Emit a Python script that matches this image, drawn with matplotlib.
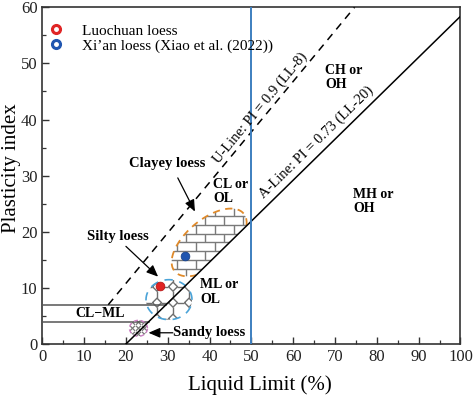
import numpy as np
import matplotlib
matplotlib.use('Agg')
import matplotlib.pyplot as plt
from matplotlib.patches import Polygon
from matplotlib.lines import Line2D
from matplotlib.collections import LineCollection
from matplotlib.ticker import MultipleLocator

plt.rcParams['font.family'] = ['Liberation Serif', 'DejaVu Serif']

# ---------------- data ----------------
luochuan_ll = [28.2]
luochuan_pi = [10.4]
xian_ll = [34.1]
xian_pi = [15.6]
series_labels = ["Luochuan loess", "Xi\u2019an loess (Xiao et al. (2022))"]
x_ticks = [0, 10, 20, 30, 40, 50, 60, 70, 80, 90, 100]
y_ticks = [0, 10, 20, 30, 40, 50, 60]
a_slope, a_ll0 = 0.73, 20      # A-line: PI = 0.73 (LL-20)
u_slope, u_ll0 = 0.9, 8        # U-line: PI = 0.9 (LL-8)
ll_boundary = 50
clml_pi = [4, 7]
zone_labels = ["CH or\nOH", "MH or\nOH", "CL or\nOL", "ML or\nOL", "CL\u2212ML"]
loess_labels = ["Clayey loess", "Silty loess", "Sandy loess"]

# ---------------- figure ----------------
fig = plt.figure(figsize=(4.74, 3.95), dpi=100)
ax = fig.add_axes([0.0892, 0.1291, 0.8823, 0.8524])
ax.set_xlim(0, 100)
ax.set_ylim(0, 60)
ax.set_xticks(x_ticks)
ax.set_yticks(y_ticks)
ax.xaxis.set_minor_locator(MultipleLocator(5))
ax.yaxis.set_minor_locator(MultipleLocator(5))
ax.tick_params(which='major', direction='in', length=5, width=1.0, labelsize=12,
               top=False, right=False, colors='#333333', labelcolor='#222222')
ax.tick_params(which='minor', direction='in', length=3, width=0.9,
               top=False, right=False, colors='#333333')
for s in ax.spines.values():
    s.set_linewidth(1.2)
    s.set_color('#333333')

ax.set_xlabel("Liquid Limit (%)", fontsize=15)
ax.set_ylabel("Plasticity index", fontsize=15)
ax.xaxis.set_label_coords(0.52, -0.093)
ax.yaxis.set_label_coords(-0.050, 0.522)

# pixel per data unit
p0 = ax.transData.transform((0, 0))
kx = ax.transData.transform((1, 0))[0] - p0[0]
ky = ax.transData.transform((0, 1))[1] - p0[1]


def a_line(ll):
    return a_slope * (np.asarray(ll) - a_ll0)


def u_line(ll):
    return u_slope * (np.asarray(ll) - u_ll0)


# A-line
xa = np.array([a_ll0, 100])
ax.plot(xa, a_line(xa), color='black', lw=1.1, zorder=5)
# U-line, starting at PI = 7
xu = np.array([u_ll0 + clml_pi[1] / u_slope, u_ll0 + 60 / u_slope])
ax.plot(xu, u_line(xu), color='black', lw=1.1, ls=(0, (5, 4)), zorder=5)
# LL = 50 line
ax.plot([ll_boundary, ll_boundary], [0, 60], color='#3d7fbf', lw=1.4, zorder=5)
# CL-ML lines
for pi in clml_pi:
    ax.plot([0, a_ll0 + pi / a_slope], [pi, pi], color='#555555', lw=1.1, zorder=4)


def ellipse_pts(cx, cy, a_px, b_px, ang_deg, n=240):
    t = np.linspace(0, 2 * np.pi, n, endpoint=False)
    th = np.radians(ang_deg)
    dx = a_px * np.cos(t) * np.cos(th) - b_px * np.sin(t) * np.sin(th)
    dy = a_px * np.cos(t) * np.sin(th) + b_px * np.sin(t) * np.cos(th)
    return cx + dx / kx, cy + dy / ky


def clip_halfplane(xs, ys, f):
    out = []
    n = len(xs)
    for i in range(n):
        p = (xs[i], ys[i])
        q = (xs[(i + 1) % n], ys[(i + 1) % n])
        fp, fq = f(*p), f(*q)
        if fp >= 0:
            out.append(p)
        if (fp >= 0) != (fq >= 0):
            t = fp / (fp - fq)
            out.append((p[0] + t * (q[0] - p[0]), p[1] + t * (q[1] - p[1])))
    return np.array(out)


# ---------- Clayey loess zone (brick pattern, above A-line) ----------
cx, cy = 39.9, 18.1
ex, ey = ellipse_pts(cx, cy, 45, 23, 40)
above = lambda x, y: y - a_slope * (x - a_ll0)
poly = clip_halfplane(ex, ey, above)
clay_patch = Polygon(poly, closed=True, facecolor='white', edgecolor='none', zorder=2)
ax.add_patch(clay_patch)
segs = []
row_h, brick_w = 8.8, 19.0
x0, x1 = ex.min() - 1, ex.max() + 1
y0, y1 = ey.min() - 1, ey.max() + 1
r = 0
yy = cy - 6 * row_h / ky
while yy < y1:
    segs.append([(x0, yy), (x1, yy)])
    off = (brick_w / 2 if r % 2 else 0) / kx
    xx = x0 + off
    while xx < x1:
        segs.append([(xx, yy), (xx, yy + row_h / ky)])
        xx += brick_w / kx
    yy += row_h / ky
    r += 1
lc = LineCollection(segs, colors='#7a7a7a', linewidths=1.0, zorder=3)
lc.set_clip_path(clay_patch)
ax.add_collection(lc)
exo = np.append(ex, ex[0])
eyo = np.append(ey, ey[0])
eyo_m = np.where(above(exo, eyo) >= 0, eyo, np.nan)
ax.plot(exo, eyo_m, color='#e08a2a', lw=1.3, ls=(0, (4, 3)), zorder=4)

# ---------- Silty loess zone (diamond lattice) ----------
sx, sy = 30.3, 7.9
sxs, sys_ = ellipse_pts(sx, sy, 23, 20, 0)
silt_patch = Polygon(np.column_stack([sxs, sys_]), closed=True, facecolor='white',
                     edgecolor='none', zorder=2)
ax.add_patch(silt_patch)
segs = []
sp, hd = 16.0, 4.5
for i in range(-2, 3):
    for j in range(-2, 3):
        px, py = sx + (i * sp + 4) / kx, sy + (j * sp - 3) / ky
        dxd, dyd = hd / kx, hd / ky
        diamond = [(px - dxd, py), (px, py + dyd), (px + dxd, py), (px, py - dyd), (px - dxd, py)]
        segs.append(diamond)
        segs.append([(px + dxd, py), (px + (sp - hd) / kx, py)])
        segs.append([(px, py + dyd), (px, py + (sp - hd) / ky)])
lc2 = LineCollection(segs, colors='#6e6e6e', linewidths=1.0, zorder=3)
lc2.set_clip_path(silt_patch)
ax.add_collection(lc2)
ax.plot(np.append(sxs, sxs[0]), np.append(sys_, sys_[0]), color='#4aa3d8', lw=1.2,
        ls=(0, (5, 4)), zorder=4)

# ---------- Sandy loess zone ----------
dx_, dy_ = 23.0, 2.8
dxs, dys = ellipse_pts(dx_, dy_, 9, 8, 0)
sand_patch = Polygon(np.column_stack([dxs, dys]), closed=True, facecolor='white',
                     edgecolor='none', zorder=2)
ax.add_patch(sand_patch)
segs = []
for i in (-1, 0, 1):
    for j in (-1, 0, 1):
        px, py = dx_ + i * 6 / kx, dy_ + j * 6 / ky
        c = 2.5
        segs.append([(px - c / kx, py - c / ky), (px + c / kx, py + c / ky)])
        segs.append([(px - c / kx, py + c / ky), (px + c / kx, py - c / ky)])
lc3 = LineCollection(segs, colors='#777777', linewidths=0.9, zorder=3)
lc3.set_clip_path(sand_patch)
ax.add_collection(lc3)
ax.plot(np.append(dxs, dxs[0]), np.append(dys, dys[0]), color='#cc7fc4', lw=1.0,
        ls=(0, (3, 2)), zorder=4)

# ---------- data points ----------
ax.scatter(luochuan_ll, luochuan_pi, s=40, color='#e02424', edgecolor='#b01010',
           linewidth=0.5, zorder=7)
ax.scatter(xian_ll, xian_pi, s=40, color='#1f55b0', edgecolor='#153f85',
           linewidth=0.5, zorder=7)

# ---------- legend ----------
h1 = (Line2D([], [], ls='none', marker='o', ms=7, mfc='#e02424', mec='#e02424'),
      Line2D([], [], ls='none', marker='o', ms=2.5, mfc='white', mec='white'))
h2 = (Line2D([], [], ls='none', marker='o', ms=7, mfc='#1f55b0', mec='#1f55b0'),
      Line2D([], [], ls='none', marker='o', ms=2.5, mfc='white', mec='white'))
ax.legend([h1, h2], series_labels, loc='upper left', bbox_to_anchor=(-0.012, 0.982),
          frameon=False, fontsize=11, handlelength=1.0, handletextpad=1.2,
          labelspacing=0.08, borderaxespad=0.3)

# ---------- zone labels ----------
zone_pos = [(67.6, 47.5), (74.3, 25.4), (40.8, 27.2), (37.7, 9.3), (13.8, 5.5)]
for lab, (x, y) in zip(zone_labels, zone_pos):
    ax.text(x, y, lab, fontsize=10, fontweight='bold', ha='center' if '\u2212' in lab else 'left',
            va='center', zorder=8, linespacing=1.15)

# line labels
ax.text(52.1, 42.0, "U-Line: PI = 0.9 (LL-8)", fontsize=10.5, ha='center', va='center',
        rotation=np.degrees(np.arctan(u_slope)), transform_rotates_text=True,
        rotation_mode='anchor', zorder=8)
ax.text(65.5, 35.9, "A-Line: PI = 0.73 (LL-20)", fontsize=10.5, ha='center', va='center',
        rotation=np.degrees(np.arctan(a_slope)), transform_rotates_text=True,
        rotation_mode='anchor', zorder=8)

# loess labels with arrows
arw = dict(arrowstyle='-|>,head_length=0.7,head_width=0.3', color='black', lw=0.9,
           shrinkA=0, shrinkB=0, mutation_scale=10)
ax.text(29.8, 32.1, loess_labels[0], fontsize=10.5, fontweight='bold', ha='center',
        va='center', zorder=8)
ax.annotate('', xy=(36.5, 23.6), xytext=(32.4, 29.6), arrowprops=arw, zorder=8)
ax.text(18.1, 19.2, loess_labels[1], fontsize=10.5, fontweight='bold', ha='center',
        va='center', zorder=8)
ax.annotate('', xy=(27.7, 12.0), xytext=(20.0, 17.4), arrowprops=arw, zorder=8)
ax.text(31.2, 2.0, loess_labels[2], fontsize=10.5, fontweight='bold', ha='left',
        va='center', zorder=8)
ax.annotate('', xy=(25.4, 2.0), xytext=(31.2, 2.0), arrowprops=arw, zorder=8)

fig.savefig('out.png', dpi=100)
